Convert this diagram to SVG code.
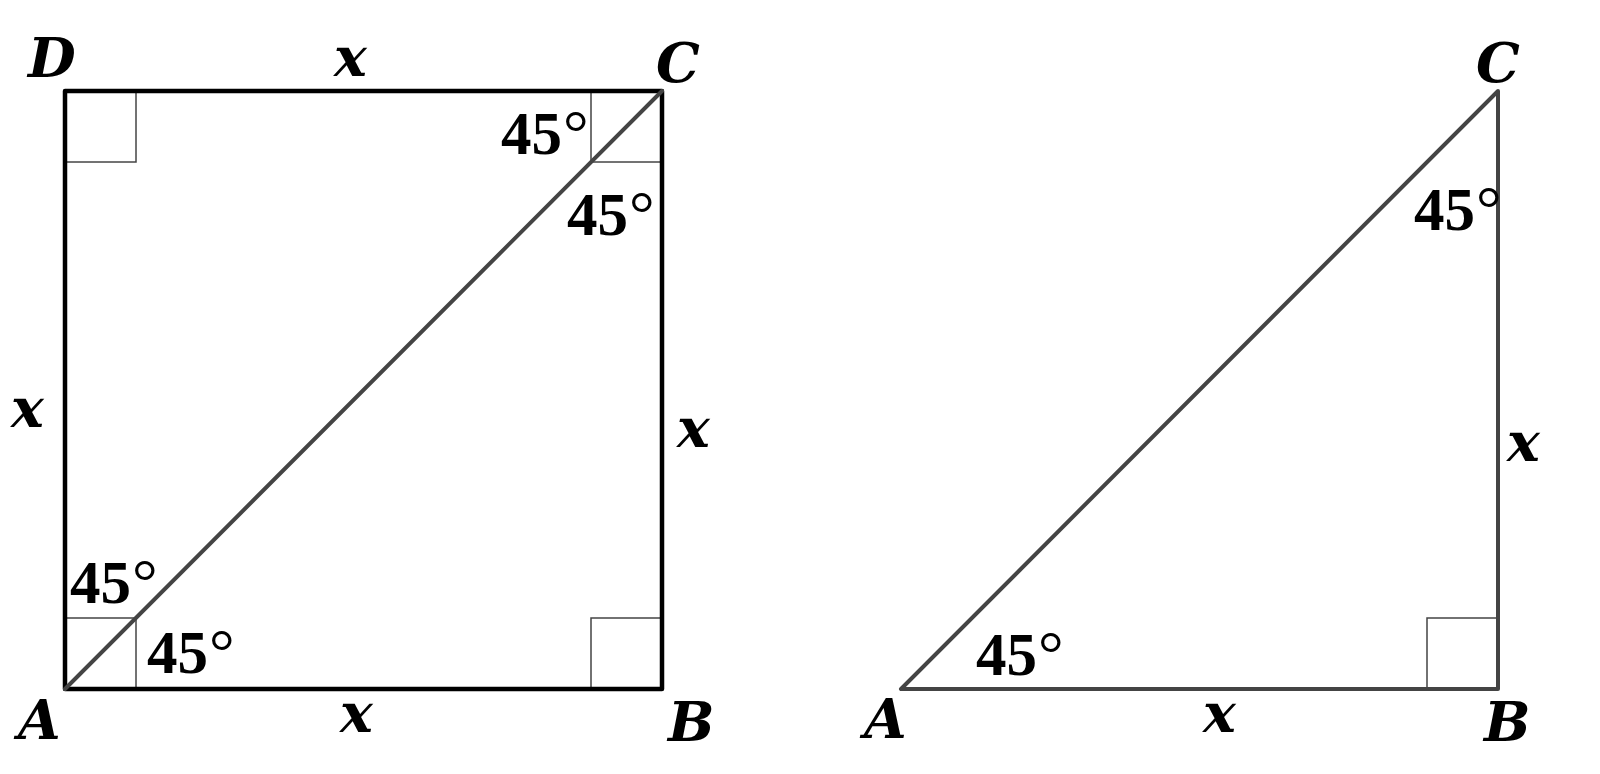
<svg xmlns="http://www.w3.org/2000/svg" width="1600" height="774" viewBox="0 0 1600 774">
<style>
.lbl{font-family:"DejaVu Serif","Liberation Serif",serif;font-style:italic;font-weight:bold;font-size:55px;fill:#000}
.ang{font-family:"Liberation Serif","DejaVu Serif",serif;font-weight:bold;font-size:61px;fill:#000}
.deg{font-weight:normal;font-size:64px}
.ra{fill:none;stroke:#444;stroke-width:1.5}
.sq{fill:none;stroke:#000;stroke-width:4.5;stroke-linejoin:round}
.gr{fill:none;stroke:#444;stroke-width:4;stroke-linecap:round;stroke-linejoin:round}
</style>
<rect width="1600" height="774" fill="#fff"/>
<g id="square">
<rect class="ra" x="65" y="91" width="71" height="71"/>
<rect class="ra" x="591" y="91" width="71" height="71"/>
<rect class="ra" x="65" y="618" width="71" height="71"/>
<rect class="ra" x="591" y="618" width="71" height="71"/>
<rect class="sq" x="65" y="91" width="597" height="598"/>
</g>
<g id="connectors">
<line class="gr" x1="65" y1="689" x2="662" y2="91"/>
</g>
<g id="triangle">
<rect class="ra" x="1427" y="618" width="71" height="71"/>
<polygon class="gr" points="901,689 1498,689 1498,91"/>
</g>
<g id="labels-square">
<text class="lbl" x="28" y="77">D</text>
<text class="lbl" x="656" y="82">C</text>
<text class="lbl" x="18" y="739">A</text>
<text class="lbl" x="668" y="741">B</text>
<text class="lbl" x="334" y="76">x</text>
<text class="lbl" x="11" y="427">x</text>
<text class="lbl" x="677" y="447">x</text>
<text class="lbl" x="340" y="732">x</text>
<text class="ang" x="501" y="154">45<tspan class="deg" dx="1">°</tspan></text>
<text class="ang" x="567" y="235">45<tspan class="deg" dx="1">°</tspan></text>
<text class="ang" x="70" y="603">45<tspan class="deg" dx="1">°</tspan></text>
<text class="ang" x="147" y="673">45<tspan class="deg" dx="1">°</tspan></text>
</g>
<g id="labels-triangle">
<text class="lbl" x="1476" y="82">C</text>
<text class="lbl" x="864" y="738">A</text>
<text class="lbl" x="1484" y="741">B</text>
<text class="lbl" x="1507" y="461">x</text>
<text class="lbl" x="1203" y="732">x</text>
<text class="ang" x="1414" y="230">45<tspan class="deg" dx="1">°</tspan></text>
<text class="ang" x="976" y="675">45<tspan class="deg" dx="1">°</tspan></text>
</g>
</svg>
